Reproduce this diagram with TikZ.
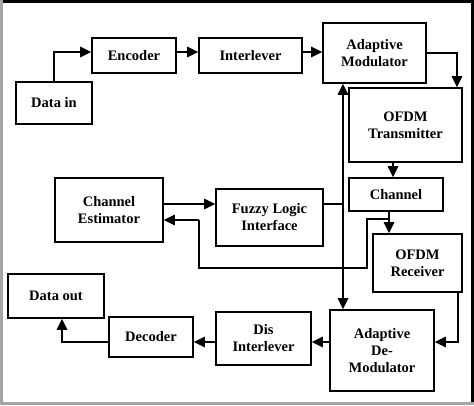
\documentclass[tikz,border=0pt]{standalone}
\usepackage{fontspec}
\setmainfont{Liberation Serif}
\usetikzlibrary{arrows.meta}
\begin{document}
\begin{tikzpicture}[x=1pt,y=-1pt,
  blk/.style={draw,line width=1.8pt,align=center,inner sep=0pt,
    font=\fontsize{14.5}{17}\selectfont\bfseries},
  arr/.style={line width=1.6pt,-{Triangle[length=11pt,width=10.5pt]}},
  ln/.style={line width=1.6pt},
  dbl/.style={line width=1.6pt,{Triangle[length=11pt,width=10.5pt]}-{Triangle[length=11pt,width=10.5pt]}}]
\useasboundingbox (0,0) rectangle (474,405);
\fill[white] (0,0) rectangle (474,405);
% frame
\fill[black] (0,0) rectangle (474,3);
\fill[black] (471,0) rectangle (474,405);
\fill[black!35] (0,0) rectangle (2.5,405);
\fill[black!35] (0,402) rectangle (474,405);
% blocks
\node[blk,minimum width=76pt,minimum height=42pt] (datain) at (54,103) {Data in};
\node[blk,minimum width=84pt,minimum height=35pt] (encoder) at (134,55.5) {Encoder};
\node[blk,minimum width=103pt,minimum height=35pt] (interl) at (250.5,55.5) {Interlever};
\node[blk,minimum width=103pt,minimum height=60pt] (admod) at (374.5,53) {Adaptive\\Modulator};
\node[blk,minimum width=113pt,minimum height=74pt] (ofdmtx) at (405.5,125) {OFDM\\Transmitter};
\node[blk,minimum width=94pt,minimum height=33pt] (channel) at (396,194.5) {Channel};
\node[blk,minimum width=89pt,minimum height=58pt] (ofdmrx) at (417.5,263) {OFDM\\Receiver};
\node[blk,minimum width=104pt,minimum height=81pt] (adm) at (382,350.5) {Adaptive\\De-\\Modulator};
\node[blk,minimum width=95pt,minimum height=53pt] (disint) at (263.5,338.5) {Dis\\Interlever};
\node[blk,minimum width=84pt,minimum height=40pt] (decoder) at (151,337) {Decoder};
\node[blk,minimum width=96pt,minimum height=44pt] (dataout) at (56,296) {Data out};
\node[blk,minimum width=108pt,minimum height=64pt] (chest) at (109,210) {Channel\\Estimator};
\node[blk,minimum width=107pt,minimum height=57pt] (fuzzy) at (269.5,217.5) {Fuzzy Logic\\Interface};
% helper coordinates
\coordinate (top) at (0,52);
\coordinate (bus) at (343,204);
\coordinate (txr) at (457,0);
\coordinate (txd) at (393,0);
\coordinate (chd) at (389,0);
\coordinate (tap) at (389,219);
\coordinate (fb1) at (367,219);
\coordinate (fb2) at (367,268);
\coordinate (fb3) at (199,268);
\coordinate (fb4) at (199,220);
\coordinate (rxd) at (458,0);
\coordinate (bot) at (0,342);
\coordinate (dox) at (62,0);
% connectors
\draw[arr] (datain.north) |- (encoder.west |- top);
\draw[arr] (encoder.east |- top) -- (interl.west |- top);
\draw[arr] (interl.east |- top) -- (admod.west |- top);
\draw[arr] (admod.east) -| (ofdmtx.north -| txr);
\draw[arr] (ofdmtx.south -| txd) -- (channel.north -| txd);
\draw[arr] (channel.south -| chd) -- (ofdmrx.north -| chd);
\draw[ln] (tap) -- (fb1) -- (fb2) -- (fb3) -- (fb4);
\draw[arr] (fb4) -- (chest.east |- fb4);
\draw[arr] (chest.east |- bus) -- (fuzzy.west |- bus);
\draw[ln] (fuzzy.east |- bus) -- (bus);
\draw[dbl] (admod.south -| bus) -- (adm.north -| bus);
\draw[arr] (ofdmrx.south -| rxd) |- (adm.east |- bot);
\draw[arr] (adm.west |- bot) -- (disint.east |- bot);
\draw[arr] (disint.west |- bot) -- (decoder.east |- bot);
\draw[arr] (decoder.west |- bot) -| (dataout.south -| dox);
\end{tikzpicture}
\end{document}
